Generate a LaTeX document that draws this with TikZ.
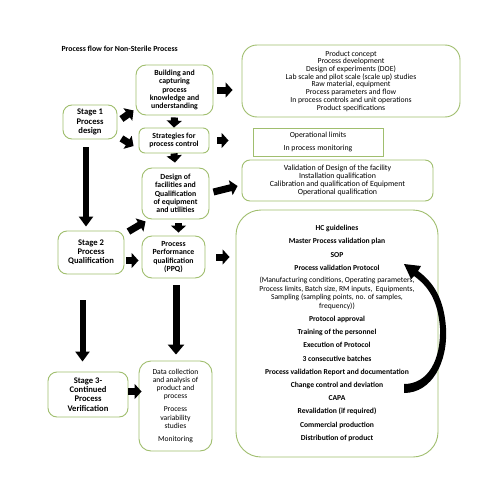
\documentclass[tikz,border=0pt]{standalone}
\usepackage{fontspec}
\setmainfont{Carlito}
\usetikzlibrary{arrows.meta}

\definecolor{boxgreen}{RGB}{160,190,110}

\newcommand{\stagefont}{\bfseries\fontsize{8.6}{9.2}\selectfont}
\newcommand{\stepfont}{\bfseries\fontsize{7.8}{8.3}\selectfont}
\newcommand{\listfont}{\fontsize{7.7}{7.7}\selectfont}
\newcommand{\planfont}{\bfseries\fontsize{7.6}{8.5}\selectfont}
\newcommand{\gap}{4.7pt}

\tikzset{
  gbox/.style={draw=boxgreen, line width=0.9pt, align=center, inner sep=0pt, rounded corners=9pt},
  fatarrow/.style={line width=7pt, -{Triangle[length=7pt,width=15pt]}},
  longarrow/.style={line width=6pt, -{Triangle[length=10pt,width=14pt]}},
}

\begin{document}
\begin{tikzpicture}[x=1pt, y=-1pt]

\path[fill=white, use as bounding box] (0,0) rectangle (495,495);

\node[anchor=west, font=\bfseries\fontsize{7.8}{8}\selectfont] (title) at (58,49) {Process flow for Non-Sterile Process};

% left column
\node[gbox, font=\stagefont, minimum width=54pt, minimum height=34pt] (stage1) at (90,122) {Stage 1\\Process\\design};
\node[gbox, font=\stagefont, minimum width=66pt, minimum height=43pt] (stage2) at (91,252.5) {Stage 2\\Process\\Qualification};
\node[gbox, font=\stagefont, minimum width=80pt, minimum height=45pt] (stage3) at (88,394.5) {Stage 3-\\Continued\\Process\\Verification};

% middle column
\node[gbox, font=\stepfont, minimum width=77pt, minimum height=50pt, rounded corners=10pt] (build) at (174.5,90) {Building and\\capturing\\process\\knowledge and\\understanding};
\node[gbox, font=\stepfont, minimum width=70pt, minimum height=25pt, rounded corners=6pt] (strat) at (174,140.5) {Strategies for\\process control};
\node[gbox, font=\stepfont, minimum width=67pt, minimum height=51pt, rounded corners=10pt] (design) at (175.5,193.5) {Design of\\facilities and\\Qualification\\of equipment\\and utilities};
\node[gbox, font=\stepfont, minimum width=63pt, minimum height=42pt, rounded corners=10pt] (ppq) at (173.5,257) {Process\\Performance\\qualification\\(PPQ)};
\node[gbox, font=\fontsize{7.6}{8.2}\selectfont, minimum width=73pt, minimum height=90pt, rounded corners=12pt] (data) at (175.5,406) {Data collection\\and analysis of\\product and\\process\\[4.8pt]Process\\variability\\studies\\[5pt]Monitoring};

% right column
\node[gbox, font=\listfont, minimum width=218pt, minimum height=72pt, rounded corners=15pt] (prod) at (351,81) {Product concept\\Process development\\Design of experiments (DOE)\\Lab scale and pilot scale (scale up) studies\\Raw material, equipment\\Process parameters and flow\\In process controls and unit operations\\Product specifications};
\node[gbox, font=\fontsize{7.8}{8}\selectfont, minimum width=130pt, minimum height=28pt, rounded corners=0pt] (oplim) at (318,142) {Operational limits\\[5pt]In process monitoring};
\node[gbox, font=\fontsize{7.9}{8.1}\selectfont, minimum width=191pt, minimum height=41pt, rounded corners=8pt] (valid) at (337.5,180.5) {Validation of Design of the facility\\Installation qualification\\Calibration and qualification of Equipment\\Operational qualification};
\node[gbox, font=\planfont, minimum width=202pt, minimum height=247pt, rounded corners=25pt] (plan) at (337,333.5) {HC guidelines\\[\gap]Master Process validation plan\\[\gap]SOP\\[\gap]Process validation Protocol\\[4pt]
{\mdseries (Manufacturing conditions, Operating parameters,}\\
{\mdseries Process limits, Batch size, RM inputs,\ \ Equipments,}\\
{\mdseries Sampling (sampling points, no. of samples,}\\
{\mdseries frequency))}\\[\gap]Protocol approval\\[\gap]Training of the personnel\\[\gap]Execution of Protocol\\[\gap]3 consecutive batches\\[\gap]Process validation Report and documentation\\[\gap]Change control and deviation\\[\gap]CAPA\\[\gap]Revalidation (if required)\\[\gap]Commercial production\\[\gap]Distribution of product};

% short arrows
\draw[fatarrow] ([shift={(4,-3)}]stage1.east) -- ([shift={(-2,-5)}]build.south west);
\draw[fatarrow] ([shift={(4,-1)}]stage1.south east) -- ([shift={(-5,5.5)}]strat.west);
\draw[fatarrow, shorten <=4pt, shorten >=9pt] (build.east) -- (build.east -| prod.west);
\draw[fatarrow, shorten <=2pt] (build.south) -- (strat.north);
\draw[fatarrow, shorten <=8pt, shorten >=24pt] (strat.east) -- (strat.east -| oplim.west);
\draw[fatarrow, shorten >=5pt] (strat.south) -- (design.north);
\draw[fatarrow] ([shift={(4,-1.5)}]design.east) -- ([shift={(-4,5.5)}]valid.west);
\draw[fatarrow] ([shift={(4,1)}]stage2.north east) -- ([shift={(4,2)}]design.south west);
\draw[fatarrow] ([shift={(2,8)}]stage2.east) -- ([shift={(-3,3.5)}]ppq.west);
\draw[fatarrow] ([shift={(3,4)}]design.south) -- ([shift={(5,-3)}]ppq.north);
\draw[fatarrow, shorten <=11pt, shorten >=6pt] (ppq.east) -- (ppq.east -| plan.west);
\draw[fatarrow] ([shift={(0,-3)}]stage3.east) -- ([shift={(3,-14.5)}]data.west);

% long arrows
\draw[longarrow] ([shift={(-4,8)}]stage1.south) -- ([shift={(-5,-4)}]stage2.north);
\draw[longarrow] ([shift={(-8.5,26)}]stage2.south) -- ([shift={(-5.5,-10)}]stage3.north);
\draw[longarrow, line width=7pt, -{Triangle[length=10pt,width=16pt]}] ([shift={(2.5,7)}]ppq.south) -- ([shift={(0.5,-6)}]data.north);

% loop back arrow, tapered
\coordinate (loopa) at (404,393);
\coordinate (loopb) at (404,264);
\fill (loopa) .. controls (432,393) and (448,362) .. (446,328) .. controls (444,298) and (433,282) .. (418,271)
  -- (421,266) -- (loopb) -- (411,279) -- (414,276)
  .. controls (428,286) and (438,300) .. (440,328) .. controls (441,360) and (428,384) .. (404,384) -- cycle;

\end{tikzpicture}
\end{document}
